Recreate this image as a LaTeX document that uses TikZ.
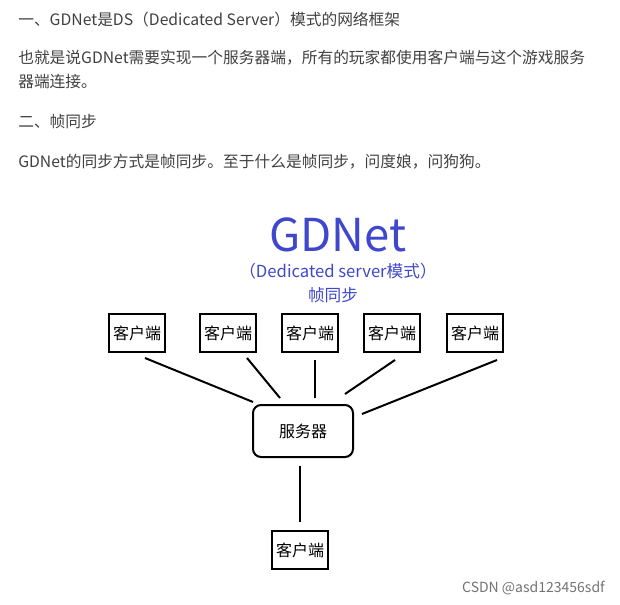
\documentclass[tikz,border=0pt]{standalone}
\usepackage{fontspec}
\setmainfont{Noto Sans CJK SC}
\begin{document}
\begin{tikzpicture}[x=0.75pt,y=-0.75pt,
  txt/.style={anchor=west,inner sep=0pt,text=black!75,font=\fontsize{11.8pt}{13pt}\selectfont},
  cbox/.style={draw,line width=1.5pt,minimum width=42pt,minimum height=29pt,inner sep=1pt,font=\fontsize{12pt}{13pt}\selectfont},
  link/.style={line width=1.5pt}]
\useasboundingbox (0,0) rectangle (620,605);
\node[txt] (t1) at (18,20) {一、GDNet是DS（Dedicated Server）模式的网络框架};
\node[txt] (t2) at (18,58) {也就是说GDNet需要实现一个服务器端，所有的玩家都使用客户端与这个游戏服务};
\node[txt] (t3) at (18,82) {器端连接。};
\node[txt] (t4) at (18,122) {二、帧同步};
\node[txt] (t5) at (18,162) {GDNet的同步方式是帧同步。至于什么是帧同步，问度娘，问狗狗。};
\definecolor{tb}{HTML}{3F48CC}
\node[text=tb,font=\fontsize{34pt}{36pt}\selectfont,inner sep=0pt] (title) at (338,235) {GDNet};
\node[text=tb,font=\fontsize{12.5pt}{14pt}\selectfont,inner sep=0pt] (sub) at (338,271) {（Dedicated server模式）};
\node[text=tb,font=\fontsize{12.5pt}{14pt}\selectfont,inner sep=0pt] (fs) at (333,295) {帧同步};
\node[cbox] (c1) at (137,333) {客户端};
\node[cbox] (c2) at (228,333) {客户端};
\node[cbox] (c3) at (310,333) {客户端};
\node[cbox] (c4) at (392,333) {客户端};
\node[cbox] (c5) at (475,333) {客户端};
\node[cbox,rounded corners=6pt,minimum width=75pt,minimum height=39pt] (srv) at (303,431) {服务器};
\node[cbox] (c6) at (300,550) {客户端};
\coordinate (s1) at (253,402);
\coordinate (s2) at (280,398);
\coordinate (s3) at (315,398);
\coordinate (s4) at (345,394);
\coordinate (s5) at (362,414);
\coordinate (p1) at (145,358);
\coordinate (p2) at (247,358);
\coordinate (p3) at (315,360);
\coordinate (p4) at (395,360);
\coordinate (p5) at (497,360);
\draw[link] (p1) -- (s1);
\draw[link] (p2) -- (s2);
\draw[link] (p3) -- (s3);
\draw[link] (p4) -- (s4);
\draw[link] (p5) -- (s5);
\draw[link,shorten <=6pt,shorten >=6pt] (srv.south -| c6) -- (c6.north);
\node[text=black!55,font=\fontsize{10.5pt}{12pt}\selectfont,anchor=east,inner sep=0pt] (wm) at (605,588) {CSDN @asd123456sdf};
\end{tikzpicture}
\end{document}
